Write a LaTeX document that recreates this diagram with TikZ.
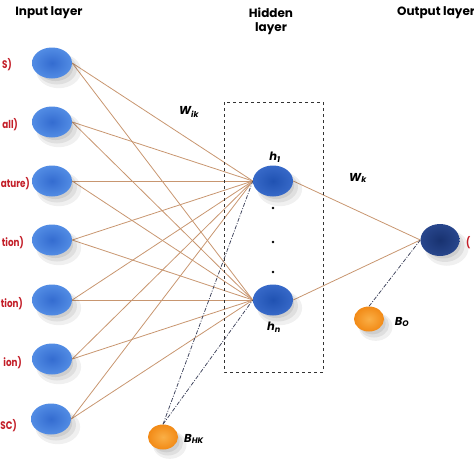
\documentclass[tikz,border=0pt]{standalone}
\usepackage{fontspec}
\setmainfont{Poppins}
\newfontfamily\lblfont[FakeStretch=0.8]{Poppins}
\usetikzlibrary{shadows,shapes.geometric,backgrounds}
\definecolor{inblue}{RGB}{52,108,208}
\definecolor{inbluel}{RGB}{82,140,228}
\definecolor{hidblue}{RGB}{32,82,178}
\definecolor{hidbluel}{RGB}{55,105,200}
\definecolor{outblue}{RGB}{24,50,112}
\definecolor{outbluel}{RGB}{40,70,140}
\definecolor{borange}{RGB}{242,138,22}
\definecolor{borangel}{RGB}{250,175,70}
\definecolor{wire}{RGB}{200,150,112}
\definecolor{lblred}{RGB}{195,30,40}
\definecolor{biasline}{RGB}{60,65,90}
\begin{document}
\begin{tikzpicture}[x=1pt,y=-1pt,
  softshadow/.style={
     drop shadow={shadow xshift=6pt, shadow yshift=-7pt, opacity=0.06, shadow scale=1.12, fill=black},
     drop shadow={shadow xshift=5pt, shadow yshift=-6pt, opacity=0.07, shadow scale=1.0, fill=black},
     drop shadow={shadow xshift=4pt, shadow yshift=-5pt, opacity=0.08, shadow scale=0.88, fill=black}},
  neuron/.style={ellipse, minimum width=40pt, minimum height=31pt, inner sep=0pt, softshadow},
  innode/.style={neuron, inner color=inblue, outer color=inbluel},
  hidnode/.style={neuron, inner color=hidblue, outer color=hidbluel},
  outnode/.style={neuron, minimum width=39pt, minimum height=32pt, inner color=outblue, outer color=outbluel},
  biasnode/.style={ellipse, minimum width=30pt, minimum height=25pt, inner sep=0pt,
     inner color=borangel, outer color=borange, softshadow},
  header/.style={font=\bfseries\fontsize{12}{14}\selectfont, text=black, align=center, inner sep=0pt},
  inlabel/.style={font=\lblfont\bfseries\fontsize{11}{13}\selectfont, text=lblred, anchor=east, inner sep=0pt},
  wlabel/.style={font=\bfseries\itshape\fontsize{11.5}{13}\selectfont, inner sep=0pt},
  wireline/.style={draw=wire, line width=0.8pt},
  biaswire/.style={draw=biasline, line width=0.75pt, dash pattern=on 4pt off 1.5pt on 1pt off 1.5pt},
  dot/.style={circle, fill=black, inner sep=0pt, minimum size=2.8pt}
]
\useasboundingbox (0,0) rectangle (474,474);
\clip (0,0) rectangle (474,474);

% headers
\node[header] (hin) at (49,13) {Input layer};
\node[header] (hhid) at (271,21) {Hidden\\layer};
\node[header, anchor=west] (hout) at (397,13) {Output layer};

% input nodes
\node[innode] (i1) at (52,63) {};
\node[innode] (i2) at (52,122) {};
\node[innode] (i3) at (52,181) {};
\node[innode] (i4) at (52,240) {};
\node[innode] (i5) at (52,300) {};
\node[innode] (i6) at (52,359) {};
\node[innode] (i7) at (51,419) {};

% input labels
\node[inlabel] (l1) at (12,65) {S)};
\node[inlabel] (l2) at (18,125) {all)};
\node[inlabel] (l3) at (30,184) {ature)};
\node[inlabel] (l4) at (24,243) {tion)};
\node[inlabel] (l5) at (23,304) {tion)};
\node[inlabel] (l6) at (22,363) {ion)};
\node[inlabel] (l7) at (17,426) {SC)};

% hidden box
\draw[dashed, line width=0.8pt, black!80] (224,102) rectangle (323,372);

% hidden nodes
\node[hidnode] (h1) at (273,181) {};
\node[hidnode] (hn) at (273,300) {};
\node[wlabel] (lh1) at (275,157) {h\textsubscript{1}};
\node[wlabel] (lhn) at (274,327) {h\textsubscript{n}};
\node[dot] (d1) at (273,208) {};
\node[dot] (d2) at (273,242) {};
\node[dot] (d3) at (273,272) {};

% output node
\node[outnode] (o) at (440,240) {};
\node[inlabel, anchor=west] (lo) at (466,243) {(};

% bias nodes
\node[biasnode] (b0) at (369,319) {};
\node[wlabel] (lb0) at (402,322) {B\textsubscript{O}};
\node[biasnode] (bhk) at (163,437) {};
\node[wlabel] (lbhk) at (194,439) {B\textsubscript{HK}};

% weight labels
\node[wlabel] (wik) at (189,112) {W\textsubscript{ik}};
\node[wlabel] (wk) at (358,178) {W\textsubscript{k}};

\begin{scope}[on background layer]
\foreach \i in {1,...,7}{
  \draw[wireline] (i\i.east) -- (h1.west);
  \draw[wireline] (i\i.east) -- (hn.west);
}
\draw[wireline] (h1.east) -- (o.west);
\draw[wireline] (hn.east) -- (o.west);
\draw[biaswire] (bhk.north) -- (h1.west);
\draw[biaswire] (bhk.north) -- (hn.west);
\draw[biaswire] (b0.north) -- (o.west);
\end{scope}
\end{tikzpicture}
\end{document}
